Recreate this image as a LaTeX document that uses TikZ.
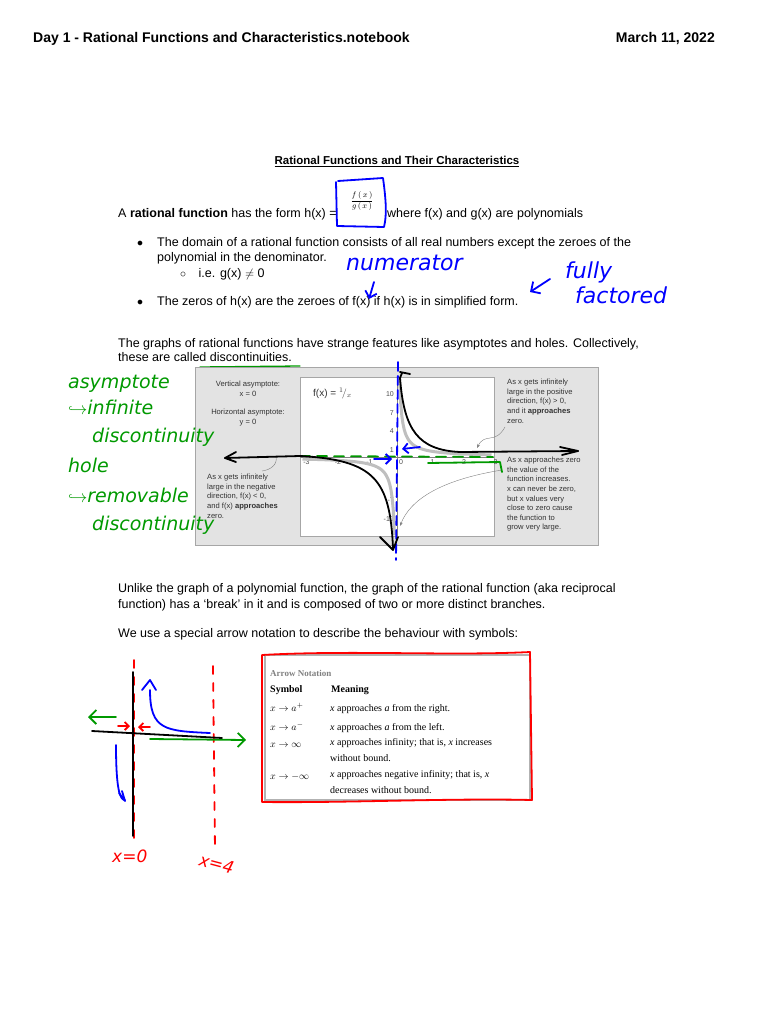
\documentclass[tikz,border=0pt]{standalone}
\usepackage{fontspec}
\setmainfont{Liberation Sans}
\newfontfamily\serifbook{Liberation Serif}
\newfontfamily\handfont{DejaVu Sans}
\usetikzlibrary{arrows.meta}

\tikzset{
  body/.style={anchor=base west, inner sep=0pt, font=\fontsize{12.5}{15}\selectfont},
  small/.style={anchor=base west, inner sep=0pt, align=left, font=\fontsize{7.6}{9.6}\selectfont, text=black!80},
  tabtext/.style={anchor=base west, inner sep=0pt, font=\serifbook\fontsize{10}{16}\selectfont},
  hand/.style={anchor=base west, inner sep=0pt, font=\handfont\itshape\fontsize{19}{22}\selectfont},
  pen/.style={line width=1.8pt, line cap=round, line join=round},
  pointer/.style={gray, thin, -{Stealth[length=4pt]}},
}

\begin{document}
\begin{tikzpicture}[x=1pt, y=-1pt]

\useasboundingbox (0,0) rectangle (768,1024);

% _____ Header
\node[body, font=\bfseries\fontsize{14}{16}\selectfont] (head) at (33,43) {Day 1 - Rational Functions and Characteristics.notebook};
\node[anchor=base east, inner sep=0pt, font=\bfseries\fontsize{14}{16}\selectfont] (date) at (715,43) {March 11, 2022};

% _____ Title and definitions
\node[anchor=base, inner sep=0pt, font=\bfseries\fontsize{11.5}{14}\selectfont] (title) at (397,165) {\underline{Rational Functions and Their Characteristics}};

\node[body] (defA) at (118,218) {A \textbf{rational function} has the form h(x) = };
\node[inner sep=0pt, font=\serifbook\fontsize{8.5}{10}\selectfont] (frac) at (362,201) {$\displaystyle\frac{f\,(\,x\,)}{g\,(\,x\,)}$};
\node[body] (defB) at (387,218) {where f(x) and g(x) are polynomials};
\draw[blue, pen] (338,181) -- (383,178) .. controls (386,200) and (387,215) .. (384,227) -- (337,226) -- (336,182);

\node[body] (bulA) at (137,246) {$\bullet$};
\node[body] (dom1) at (157,246) {The domain of a rational function consists of all real numbers except the zeroes of the};
\node[body] (dom2) at (157,261) {polynomial in the denominator.};
\node[body] (ieA) at (180,277) {$\circ$\quad i.e. g(x) $\neq$ 0};
\node[body] (bulB) at (137,305) {$\bullet$};
\node[body] (zer) at (157,305) {The zeros of h(x) are the zeroes of f(x) if h(x) is in simplified form.};

% _____ Blue notes
\node[hand, blue, font=\handfont\itshape\fontsize{22}{24}\selectfont] (numer) at (346,270) {numerator};
\draw[blue, pen, -{Straight Barb[length=6pt]}] (374,282) -- (369,299);
\node[hand, blue, font=\handfont\itshape\fontsize{22}{24}\selectfont] (fully) at (565,278) {fully};
\node[hand, blue, font=\handfont\itshape\fontsize{22}{24}\selectfont] (fact) at (575,303) {factored};
\draw[blue, pen, -{Straight Barb[length=7pt]}] (550,279) -- (530,292);

% _____ Discontinuities paragraph
\node[body] (graA) at (118,347) {The graphs of rational functions have strange features like asymptotes and holes. Collectively,};
\node[body] (graB) at (118,361) {these are called discontinuities.};
\draw[green!60!black, pen, line width=1.3pt] (200,367) -- (300,366);

% _____ Graph panel
\fill[gray!22] (195,367) rectangle (598,545);
\draw[gray!70] (195,367) rectangle (598,545);
\fill[white] (300,377) rectangle (494,536);
\draw[gray!70] (300,377) rectangle (494,536);

\draw[gray] (300,457) -- (494,457);
\draw[gray] (397,384) -- (397,536);
\foreach \t in {-3,-2,-1,0,1,2,3}
  \node[font=\fontsize{7}{8}\selectfont, text=black!70, anchor=north, inner sep=1pt] at ({397+31.5*\t+4},458) {\t};
\foreach \v/\yy in {10/394,7/413,4/431,1/450,-7/500,-10/519}
  \node[font=\fontsize{7}{8}\selectfont, text=black!70, anchor=east, inner sep=1pt] at (395,\yy) {\v};

\draw[gray!50, line width=3pt] plot[domain=0.08:3, samples=80] ({397+31.5*\x},{457-6.3/\x});
\draw[gray!50, line width=3pt] plot[domain=-3:-0.08, samples=80] ({397+31.5*\x},{457-6.3/\x});

\node[small, font=\fontsize{10}{11}\selectfont] (fx) at (313,396) {f(x) = $^1\!/_x$};
\node[small, anchor=north, align=center] (vasy) at (248,381) {Vertical asymptote:\\x = 0};
\node[small, anchor=north, align=center] (hasy) at (248,409) {Horizontal asymptote:\\y = 0};
\node[small, anchor=north west] (negT) at (207,474) {As x gets infinitely\\large in the negative\\direction, f(x) < 0,\\and f(x) \textbf{approaches}\\zero.};
\node[small, anchor=north west] (posT) at (507,379) {As x gets infinitely\\large in the positive\\direction, f(x) > 0,\\and it \textbf{approaches}\\zero.};
\node[small, anchor=north west] (zerT) at (507,457) {As x approaches zero\\the value of the\\function increases.\\x can never be zero,\\but x values very\\close to zero cause\\the function to\\grow very large.};

\draw[pointer] (505,427) .. controls (495,445) and (485,432) .. (477,448);
\draw[pointer] (502,470) .. controls (440,480) and (410,500) .. (400,526);
\draw[gray, thin] (276,456) .. controls (278,465) and (270,470) .. (262,471);

% _____ Hand marks on graph
\draw[blue, pen, dashed, dash pattern=on 9pt off 5pt] (398,362) -- (396,560);
\draw[green!60!black, pen, dashed, dash pattern=on 10pt off 7pt] (300,456) -- (493,457);
\draw[green!60!black, pen] (428,463) -- (500,462) -- (502,472);
\draw[black, pen] (402,373) -- (400,378) .. controls (404,430) and (418,450) .. (460,452) -- (578,451);
\draw[black, pen] (410,374) -- (400,372);
\draw[black, pen] (560,447) -- (578,451) -- (562,455);
\draw[black, pen] (225,458) -- (300,456) .. controls (375,460) and (390,480) .. (393,548);
\draw[black, pen] (236,452) -- (225,458) -- (236,462);
\draw[black, pen] (380,537) -- (393,550) -- (398,537);
\draw[blue, pen, -{Straight Barb[length=5pt]}] (420,447) -- (402,449);
\draw[blue, pen, -{Straight Barb[length=5pt]}] (374,459) -- (392,459);

% _____ Green notes
\node[hand, green!60!black] (asy) at (68,388) {asymptote};
\node[hand, green!60!black] (inf) at (68,414) {$\hookrightarrow$infinite};
\node[hand, green!60!black] (dis1) at (92,442) {discontinuity};
\node[hand, green!60!black] (hole) at (68,472) {hole};
\node[hand, green!60!black] (rem) at (68,502) {$\hookrightarrow$removable};
\node[hand, green!60!black] (dis2) at (92,530) {discontinuity};

% _____ Lower paragraphs
\node[body] (unA) at (118,592) {Unlike the graph of a polynomial function, the graph of the rational function (aka reciprocal};
\node[body] (unB) at (118,608) {function) has a ‘break’ in it and is composed of two or more distinct branches.};
\node[body] (use) at (118,637) {We use a special arrow notation to describe the behaviour with symbols:};

% _____ Sketch
\draw[red, pen, dashed, dash pattern=on 8pt off 9pt] (134,660) -- (134,842);
\draw[red, pen, dashed, dash pattern=on 8pt off 9pt] (213,666) -- (215,850);
\draw[black, pen] (133,672) -- (133,836);
\draw[black, pen] (92,731) -- (222,738);
\draw[blue, pen] (150,690) .. controls (150,730) and (165,731) .. (210,733);
\draw[blue, pen] (142,690) -- (150,680) -- (156,690);
\draw[blue, pen] (116,745) .. controls (116,790) and (120,800) .. (125,800);
\draw[blue, pen] (119,793) -- (125,801) -- (122,791);
\draw[green!60!black, pen, -{Straight Barb[length=7pt]}] (150,739) -- (246,740);
\draw[green!60!black, pen, -{Straight Barb[length=7pt]}] (116,717) -- (88,717);
\draw[red, pen, -{Straight Barb[length=4pt]}] (118,726) -- (130,726);
\draw[red, pen, -{Straight Barb[length=4pt]}] (150,727) -- (138,727);
\node[hand, red, font=\handfont\itshape\fontsize{17}{20}\selectfont] (xz) at (112,862) {x=0};
\node[hand, red, font=\handfont\itshape\fontsize{17}{20}\selectfont, rotate=-15] (xf) at (198,865) {x=4};

% _____ Arrow notation table
\draw[gray!60, very thick] (265,655) rectangle (530,800);
\node[tabtext, text=gray, font=\serifbook\bfseries\fontsize{9}{11}\selectfont] (tabt) at (270,676) {Arrow Notation};
\node[tabtext, font=\serifbook\bfseries\fontsize{10}{12}\selectfont] (sym) at (270,692) {Symbol};
\node[tabtext, font=\serifbook\bfseries\fontsize{10}{12}\selectfont] (mea) at (331,692) {Meaning};
\node[tabtext] (s1) at (270,711) {$x\to a^{+}$};
\node[tabtext] (m1) at (330,711) {\textit{x} approaches \textit{a} from the right.};
\node[tabtext] (s2) at (270,730) {$x\to a^{-}$};
\node[tabtext] (m2) at (330,730) {\textit{x} approaches \textit{a} from the left.};
\node[tabtext] (s3) at (270,747) {$x\to\infty$};
\node[tabtext, align=left, anchor=north west] (m3) at (330,738) {\textit{x} approaches infinity; that is, \textit{x} increases\\without bound.};
\node[tabtext] (s4) at (270,779) {$x\to-\infty$};
\node[tabtext, align=left, anchor=north west] (m4) at (330,770) {\textit{x} approaches negative infinity; that is, \textit{x}\\decreases without bound.};
\draw[red, pen] (262,655) .. controls (350,650) and (450,656) .. (530,652) -- (532,800) .. controls (450,798) and (350,803) .. (262,802) -- (262,655);

\end{tikzpicture}
\end{document}
